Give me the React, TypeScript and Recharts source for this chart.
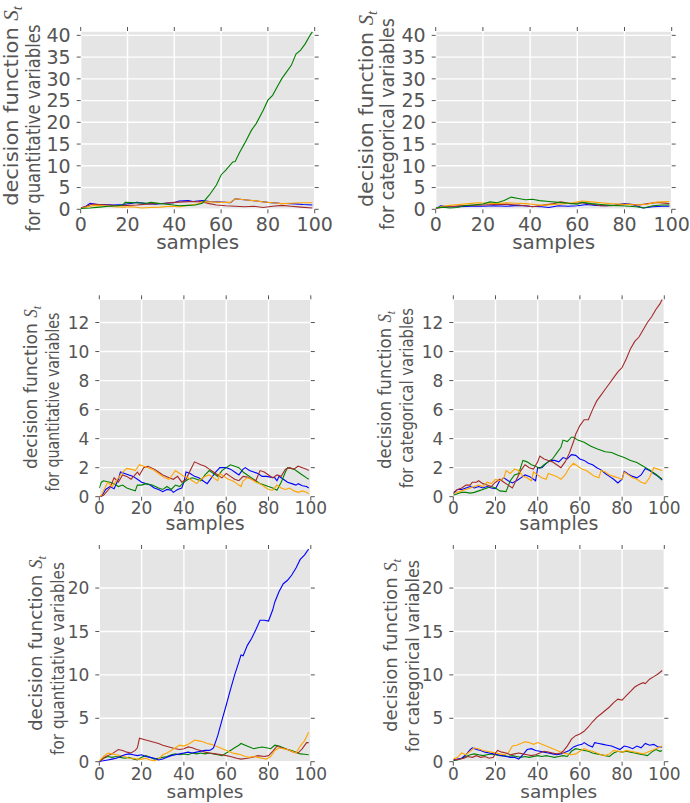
import React from "react";
import { LineChart, Line, XAxis, YAxis, CartesianGrid } from "recharts";

type Pt = [number, number];

const X_TICKS = [0, 20, 40, 60, 80, 100];
const Y_TICKS_ROW1 = [0, 5, 10, 15, 20, 25, 30, 35, 40];
const Y_TICKS_ROW2 = [0, 2, 4, 6, 8, 10, 12];
const Y_TICKS_ROW3 = [0, 5, 10, 15, 20];
const Y_MAX_ROW1 = 41;
const Y_MAX_ROW2 = 13.6;
const Y_MAX_ROW3 = 24.5;

const LABEL_TOP = "decision function";
const LABEL_QUANT = "for quantitative variables";
const LABEL_CAT = "for categorical variables";
const X_LABEL = "samples";

const BLUE = "#0000ff";
const GREEN = "#008000";
const RED = "#a52a2a";
const ORANGE = "#ffa500";

// row 1, quantitative
const r1QuantBlue: Pt[] = [[0,0.3],[2,0.6],[4,1.4],[6,1.2],[8,1.0],[10,1.1],[14,1.0],[18,1.1],[22,1.4],[24,1.6],[28,1.3],[32,1.2],[36,1.4],[40,1.5],[42,1.9],[46,2.0],[48,1.8],[52,2.0],[55,1.8],[58,1.7],[62,1.6],[64,1.5],[66,2.4],[70,2.2],[75,1.9],[80,1.6],[85,1.4],[90,1.3],[95,1.1],[99,1.0]];
const r1QuantGreen: Pt[] = [[0,0.2],[4,0.3],[8,0.5],[12,0.7],[16,0.8],[18,1.0],[19,1.6],[24,1.5],[28,1.4],[30,1.6],[34,1.3],[38,1.1],[42,0.8],[46,0.9],[49,1.0],[52,1.4],[55,3.3],[58,5.6],[60,7.9],[62,9.0],[65,10.9],[66,11.0],[68,13.2],[70,15.1],[73,18.2],[75,19.7],[78,22.8],[80,25.1],[82,26.2],[84,28.2],[86,30.1],[88,31.6],[90,33.1],[92,35.7],[94,36.6],[96,38.1],[98,40.0],[99,40.8]];
const r1QuantRed: Pt[] = [[0,0.3],[3,0.8],[5,1.2],[8,1.1],[12,1.0],[16,0.8],[20,0.9],[24,1.0],[28,1.2],[32,1.3],[36,1.4],[40,1.6],[44,1.7],[48,1.8],[52,1.7],[55,1.3],[58,1.0],[62,0.8],[66,0.7],[70,0.6],[74,0.7],[78,0.4],[82,0.7],[86,0.9],[90,0.7],[94,0.5],[99,0.3]];
const r1QuantOrange: Pt[] = [[0,0.2],[3,0.6],[6,0.9],[10,0.8],[14,0.6],[18,0.5],[22,0.6],[26,0.3],[30,0.4],[34,0.5],[38,0.7],[42,0.6],[46,0.9],[50,1.2],[52,1.7],[56,1.7],[60,1.6],[64,1.6],[66,2.4],[70,2.2],[74,2.0],[78,1.7],[82,1.5],[86,1.3],[90,1.4],[94,1.5],[99,1.5]];

// row 1, categorical
const r1CatBlue: Pt[] = [[0,0.1],[2,0.8],[5,0.6],[10,0.6],[15,0.7],[20,0.7],[25,0.8],[30,0.7],[35,0.9],[40,0.7],[45,0.6],[48,0.4],[52,0.8],[56,0.7],[60,0.8],[64,1.1],[68,0.9],[72,0.8],[76,1.0],[80,1.3],[84,1.0],[88,0.3],[92,0.6],[96,0.7],[99,0.7]];
const r1CatGreen: Pt[] = [[0,0.3],[3,0.5],[6,0.3],[9,0.4],[12,0.8],[16,1.0],[20,1.2],[23,1.7],[26,1.5],[29,2.0],[32,2.8],[35,2.5],[38,2.2],[41,2.3],[44,2.0],[48,1.8],[52,1.6],[56,1.4],[60,1.2],[62,1.6],[66,1.3],[70,1.1],[74,0.9],[78,0.8],[82,0.7],[85,0.6],[88,0.3],[92,0.8],[96,1.0],[99,1.0]];
const r1CatRed: Pt[] = [[0,0.2],[3,0.5],[6,0.6],[10,0.8],[15,0.9],[20,1.0],[25,1.1],[30,1.2],[34,1.0],[38,0.8],[41,0.6],[45,0.9],[50,1.3],[53,1.7],[57,1.3],[62,1.5],[66,1.2],[70,0.8],[74,0.8],[78,1.0],[82,1.2],[86,1.0],[90,1.3],[94,1.6],[99,1.3]];
const r1CatOrange: Pt[] = [[0,0.3],[3,0.7],[6,0.9],[10,1.1],[14,1.3],[18,1.5],[22,1.4],[26,1.3],[30,1.5],[34,1.4],[38,1.3],[42,1.1],[45,0.9],[50,1.1],[55,1.3],[58,1.5],[62,1.9],[66,1.7],[70,1.5],[74,1.3],[78,1.2],[82,1.1],[86,1.0],[90,1.2],[93,1.6],[96,1.7],[99,1.8]];

// row 2, quantitative
const r2QuantBlue: Pt[] = [[0,0.0],[1,0.0],[3,0.5],[5,0.7],[7,0.55],[9,1.2],[10,1.7],[12,1.6],[14,1.5],[16,1.4],[18,1.2],[20,1.0],[22,0.9],[24,0.8],[26,0.6],[28,0.5],[30,0.35],[32,0.5],[34,0.45],[35,0.3],[37,0.5],[39,0.6],[40,1.0],[41,1.7],[43,1.6],[45,1.4],[47,1.3],[49,1.1],[51,0.9],[53,1.3],[55,1.7],[57,2.0],[60,2.0],[62,1.9],[64,1.7],[66,1.5],[68,1.9],[69,2.0],[71,1.8],[73,1.7],[75,1.6],[77,1.4],[79,1.4],[81,1.35],[83,1.3],[84,1.1],[85,1.4],[87,1.2],[89,1.0],[91,0.9],[93,0.8],[94,0.9],[96,0.75],[98,0.7],[99,0.6]];
const r2QuantGreen: Pt[] = [[0,0.6],[1,1.0],[2,1.1],[5,1.0],[7,0.9],[9,0.7],[11,0.8],[13,0.6],[15,0.5],[17,0.4],[18,0.8],[20,0.8],[22,0.9],[25,0.8],[28,0.6],[30,0.5],[32,0.7],[34,0.5],[36,0.8],[38,0.7],[40,1.0],[42,1.2],[44,1.3],[46,1.2],[48,1.1],[50,1.5],[52,1.8],[54,1.6],[56,1.4],[58,1.8],[60,2.0],[62,2.2],[64,2.1],[66,2.0],[68,1.7],[70,1.5],[72,1.3],[74,1.1],[76,0.9],[78,0.8],[80,0.7],[82,0.6],[84,0.45],[86,1.0],[88,1.7],[89,2.0],[92,1.9],[94,1.7],[96,1.5],[98,1.3],[99,1.2]];
const r2QuantRed: Pt[] = [[0,0.0],[2,0.1],[5,0.6],[7,1.3],[9,1.0],[11,1.5],[13,1.4],[15,1.2],[18,1.7],[19,1.5],[21,2.0],[23,2.1],[26,1.9],[28,1.7],[30,1.5],[33,1.3],[35,1.2],[37,1.4],[39,1.0],[41,1.2],[43,1.8],[45,2.4],[48,2.2],[50,2.1],[52,1.9],[54,1.7],[56,1.5],[58,1.3],[60,1.6],[62,1.4],[64,1.2],[66,1.1],[68,1.4],[70,1.35],[72,1.2],[74,1.1],[76,1.8],[78,1.7],[80,1.5],[82,1.3],[84,1.5],[86,1.4],[88,1.9],[90,2.0],[92,1.9],[94,2.1],[96,2.0],[98,1.9],[99,1.8]];
const r2QuantOrange: Pt[] = [[0,0.0],[1,0.1],[4,1.0],[6,0.7],[9,1.3],[11,1.7],[13,1.95],[15,1.9],[17,1.8],[19,2.2],[21,2.1],[23,2.0],[25,1.9],[27,1.7],[29,1.5],[31,1.3],[33,1.2],[35,1.6],[36,1.8],[38,1.6],[40,1.4],[42,1.3],[44,1.1],[46,0.9],[48,1.2],[50,1.4],[52,1.5],[54,1.3],[56,1.1],[57,1.6],[59,1.4],[61,1.2],[63,1.1],[65,0.9],[67,0.7],[68,1.1],[70,1.3],[72,1.2],[74,1.0],[76,0.9],[78,0.7],[80,0.5],[82,0.45],[84,0.8],[86,0.6],[88,0.5],[90,0.6],[92,0.4],[94,0.3],[96,0.4],[98,0.3],[99,0.2]];

// row 2, categorical
const r2CatBlue: Pt[] = [[0,0.2],[2,0.5],[4,0.5],[6,0.6],[8,0.7],[10,0.6],[12,0.7],[14,0.6],[16,0.7],[18,0.6],[20,0.55],[22,1.1],[24,1.3],[26,1.1],[28,0.95],[30,1.1],[32,1.3],[34,1.5],[36,1.4],[38,1.2],[39,1.1],[40,2.0],[42,2.0],[44,2.3],[46,2.5],[48,2.5],[50,2.4],[52,2.7],[54,2.6],[56,2.9],[58,2.85],[60,2.6],[62,2.5],[64,2.3],[66,2.2],[68,2.0],[70,1.85],[72,1.6],[74,1.4],[76,1.2],[78,0.95],[80,1.2],[81,1.75],[83,1.55],[85,1.4],[87,1.3],[89,1.5],[91,1.95],[93,1.8],[95,1.6],[97,1.4],[99,1.15]];
const r2CatGreen: Pt[] = [[0,0.1],[2,0.2],[4,0.3],[6,0.3],[8,0.25],[10,0.3],[12,0.4],[14,0.5],[16,0.6],[18,0.7],[20,0.6],[22,0.4],[25,0.35],[27,1.1],[29,1.5],[31,1.6],[33,2.5],[35,2.4],[37,2.2],[39,2.1],[41,1.95],[43,2.2],[45,2.4],[47,2.6],[49,3.0],[51,3.4],[52,3.9],[54,3.8],[56,4.1],[57,4.1],[59,3.9],[62,3.75],[65,3.5],[68,3.3],[70,3.2],[72,3.1],[75,3.05],[78,2.85],[81,2.7],[84,2.5],[87,2.35],[90,2.1],[93,1.85],[96,1.55],[99,1.2]];
const r2CatRed: Pt[] = [[0,0.3],[2,0.5],[4,0.6],[6,0.8],[8,0.8],[9,1.0],[11,1.0],[12,1.1],[14,0.9],[16,0.8],[18,0.7],[20,1.0],[22,1.2],[24,1.0],[26,0.8],[28,0.6],[30,1.2],[32,1.8],[34,2.2],[36,2.0],[38,1.9],[40,2.4],[41,2.8],[43,2.6],[45,2.5],[47,2.4],[49,2.2],[51,2.0],[53,2.4],[55,3.0],[57,3.8],[58,4.3],[60,4.9],[62,5.3],[64,5.3],[66,6.0],[68,6.6],[70,7.0],[72,7.4],[74,7.8],[76,8.2],[78,8.6],[80,8.9],[82,9.5],[84,10.2],[86,10.7],[88,11.0],[90,11.5],[92,12.0],[94,12.4],[96,12.9],[98,13.3],[99,13.6]];
const r2CatOrange: Pt[] = [[0,0.2],[2,0.3],[4,0.4],[6,0.5],[8,0.6],[10,0.7],[12,0.8],[14,0.7],[16,1.0],[18,0.9],[20,1.2],[22,1.1],[24,1.3],[25,1.8],[27,1.6],[29,1.9],[31,1.8],[33,1.4],[35,1.3],[37,1.1],[38,1.7],[40,1.5],[42,1.3],[44,1.2],[45,1.6],[47,1.5],[49,1.4],[51,1.2],[53,1.5],[55,2.0],[57,2.3],[59,2.1],[61,1.9],[63,1.8],[65,1.6],[67,1.4],[69,1.3],[70,1.8],[72,1.7],[74,1.5],[76,1.4],[78,1.3],[80,1.2],[81,1.7],[83,1.5],[85,1.3],[87,1.2],[89,1.0],[91,0.9],[93,1.3],[95,2.0],[97,1.9],[99,1.8]];

// row 3, quantitative
const r3QuantBlue: Pt[] = [[0,0.0],[2,0.1],[4,0.2],[6,0.3],[8,0.4],[10,0.6],[12,0.8],[14,0.9],[16,0.8],[18,0.7],[20,0.8],[22,0.6],[24,0.5],[26,0.4],[28,0.2],[30,0.3],[32,0.5],[34,0.7],[36,0.8],[38,0.9],[40,1.0],[42,1.1],[44,1.0],[46,1.1],[48,1.2],[50,1.3],[52,1.3],[53,1.4],[54,1.6],[56,3.0],[58,4.8],[60,6.5],[62,8.3],[64,10.0],[66,11.5],[67,12.3],[68,12.2],[70,13.4],[72,14.2],[74,15.2],[76,16.3],[78,16.3],[80,16.2],[82,17.5],[83,18.4],[85,19.6],[87,20.5],[89,20.9],[91,21.5],[93,22.3],[95,23.3],[97,23.8],[99,24.5]];
const r3QuantGreen: Pt[] = [[0,0.0],[2,0.4],[4,0.6],[6,0.5],[8,0.6],[10,0.5],[12,0.4],[14,0.5],[16,0.3],[18,0.2],[20,0.5],[22,0.7],[24,0.5],[26,0.3],[28,0.4],[30,0.5],[32,0.6],[34,0.8],[36,0.9],[38,0.8],[40,0.9],[42,0.8],[44,1.0],[46,0.9],[48,1.0],[50,0.9],[52,1.0],[54,0.9],[56,0.8],[58,0.7],[60,1.0],[62,1.3],[64,1.6],[66,1.9],[67,2.1],[69,1.9],[71,1.7],[73,1.5],[75,1.6],[77,1.7],[79,1.6],[81,1.5],[83,1.9],[85,1.8],[87,1.6],[89,1.4],[91,1.3],[93,1.1],[95,0.9],[97,0.85],[99,0.8]];
const r3QuantRed: Pt[] = [[0,0.0],[1,0.2],[3,0.6],[6,0.9],[9,1.4],[11,1.3],[13,1.1],[15,1.0],[17,1.3],[18,1.6],[19,2.7],[22,2.5],[25,2.3],[28,2.1],[30,1.9],[33,1.7],[36,1.5],[38,1.4],[40,1.5],[42,1.7],[44,1.6],[46,1.4],[48,1.3],[50,1.1],[52,1.0],[55,0.9],[58,0.8],[60,0.7],[62,0.6],[65,0.4],[67,0.3],[70,0.4],[72,0.5],[75,0.7],[78,0.6],[80,0.7],[82,1.2],[84,1.8],[86,1.6],[88,1.5],[90,1.3],[92,1.1],[94,1.0],[96,1.5],[98,2.2],[99,2.2]];
const r3QuantOrange: Pt[] = [[0,0.1],[2,0.6],[4,1.0],[6,0.9],[8,0.8],[10,0.7],[12,0.6],[14,0.4],[16,0.4],[18,0.3],[20,0.3],[22,0.4],[24,0.2],[26,0.1],[28,0.3],[30,0.8],[32,1.0],[34,1.3],[36,1.6],[38,1.9],[40,1.8],[42,2.0],[44,2.3],[45,2.5],[47,2.4],[49,2.3],[51,2.1],[53,2.0],[55,1.8],[57,1.6],[59,1.4],[61,1.2],[63,1.0],[65,0.9],[67,0.8],[69,0.6],[71,0.5],[73,0.6],[75,0.5],[77,0.4],[79,0.3],[81,0.6],[83,1.3],[85,1.6],[87,1.5],[89,1.4],[91,1.2],[93,1.0],[95,1.8],[97,2.4],[99,3.4]];

// row 3, categorical
const r3CatBlue: Pt[] = [[0,0.2],[2,0.3],[4,0.4],[6,0.8],[8,1.4],[9,1.6],[11,1.4],[13,1.3],[15,1.1],[17,1.0],[19,0.9],[21,0.8],[23,0.7],[25,0.6],[27,0.5],[29,0.5],[31,0.3],[33,0.8],[35,1.4],[37,1.5],[39,1.3],[41,1.2],[43,1.1],[45,1.0],[47,0.9],[49,0.8],[51,0.9],[53,1.1],[55,1.3],[57,1.7],[59,1.9],[61,2.0],[62,2.2],[64,1.9],[66,1.7],[67,2.2],[69,2.1],[71,2.0],[73,1.9],[75,1.8],[77,1.6],[79,1.4],[81,1.8],[83,1.7],[85,1.5],[87,1.8],[89,1.6],[91,2.1],[93,1.9],[95,2.0],[97,1.7],[99,1.7]];
const r3CatGreen: Pt[] = [[0,0.1],[2,0.2],[4,0.4],[6,0.6],[8,0.8],[10,0.9],[12,0.8],[14,0.7],[16,0.8],[18,0.9],[20,0.8],[22,0.7],[24,0.7],[26,0.6],[28,0.7],[30,0.6],[32,0.5],[34,0.6],[36,0.5],[38,0.6],[40,0.7],[42,0.6],[44,0.7],[46,0.6],[48,0.5],[50,0.6],[52,0.7],[54,0.6],[56,1.2],[58,1.5],[60,1.4],[62,1.3],[64,1.2],[66,1.0],[68,0.9],[70,0.8],[72,0.7],[74,0.6],[76,1.0],[78,1.2],[80,1.1],[82,1.2],[84,1.1],[86,1.0],[88,0.9],[90,0.8],[92,0.7],[94,1.1],[96,1.4],[98,1.2],[99,1.3]];
const r3CatRed: Pt[] = [[0,0.2],[3,0.3],[5,0.4],[7,0.6],[9,0.5],[11,0.7],[13,0.5],[15,0.6],[17,0.4],[19,0.5],[20,1.0],[21,1.3],[23,1.1],[25,1.0],[27,0.8],[29,0.9],[31,1.0],[33,0.9],[35,0.8],[37,0.7],[39,0.8],[41,1.0],[43,1.2],[45,1.1],[47,1.0],[49,0.9],[51,1.0],[52,1.2],[54,1.8],[56,2.6],[58,3.0],[60,3.2],[62,3.5],[64,4.0],[66,4.6],[68,5.1],[70,5.5],[72,5.9],[74,6.3],[76,6.8],[78,7.2],[80,7.1],[82,7.6],[84,8.1],[86,8.6],[88,8.9],[90,9.1],[91,9.0],[93,9.5],[95,9.8],[97,10.1],[99,10.5]];
const r3CatOrange: Pt[] = [[0,0.3],[2,0.5],[4,1.0],[6,0.8],[8,1.2],[10,1.6],[12,1.5],[14,1.3],[16,1.2],[18,1.1],[20,1.0],[22,0.9],[24,0.8],[26,1.0],[28,1.8],[30,1.9],[32,2.1],[34,2.3],[36,2.2],[38,2.0],[40,2.2],[42,2.0],[44,1.8],[46,1.6],[48,1.4],[50,1.2],[52,1.0],[54,0.9],[56,0.8],[58,0.9],[60,1.2],[62,1.5],[64,1.3],[66,1.2],[68,1.0],[70,0.8],[72,0.7],[74,0.9],[76,1.3],[78,1.2],[80,1.1],[82,1.3],[84,1.2],[86,1.1],[88,1.0],[90,0.9],[92,1.1],[94,1.3],[96,1.5],[98,1.7],[99,1.8]];

const GRAY = "#555555";
const FONT = "DejaVu Sans";
const CW = 345;
const XAXIS_H = 34;
// approximate text widths in em, used to squeeze the rotated labels to the reference length
const EM_LINE1 = 9.64;
const EM_QUANT = 12.63;
const EM_CAT = 12.11;

type Series = { pts: Pt[]; color: string };
type PanelProps = {
  cl: number; ct: number; ch: number;
  pl: number; pt: number; pw: number; ph: number;
  yMax: number; yTicks: number[];
  series: Series[];
  line2: string; em2: number;
  lab: number[]; // per line: baseline x, centre y, length (page coords)
  labelFs: number; tickFs: number; xlabFs: number;
  xTickOff: number; xlabY: number;
};

function Panel(p: PanelProps) {
  const yw = p.pl - p.cl;
  const top = p.pt - p.ct - 1;
  const right = CW - yw - p.pw - 1;
  const bottom = p.ch - (p.pt - p.ct) - p.ph - XAXIS_H;
  const [bx1, cy1, len1, bx2, cy2, len2] = p.lab;
  const lx1 = bx1 - p.cl, ly1 = cy1 - p.ct;
  const lx2 = bx2 - p.cl, ly2 = cy2 - p.ct;
  const fs = p.labelFs;
  const sx1 = len1 / (EM_LINE1 * fs);
  const sx2 = len2 / (p.em2 * fs);

  const xTick = (props: any) => (
    <text x={props.x} y={props.y} dy={p.xTickOff - 4} textAnchor="middle" fill={GRAY} fontSize={p.tickFs} fontFamily={FONT}>
      {props.payload.value}
    </text>
  );
  const yTick = (props: any) => (
    <text x={props.x} y={props.y} dy="0.36em" textAnchor="end" fill={GRAY} fontSize={p.tickFs} fontFamily={FONT}>
      {props.payload.value}
    </text>
  );
  const blank = () => <g />;
  const yLabel = () => (
    <g fill={GRAY} fontFamily={FONT} fontSize={fs}>
      <text x={0} y={0} textAnchor="middle" transform={`translate(${lx1} ${ly1}) rotate(-90) scale(${sx1} 1)`}>
        {LABEL_TOP}{" "}
        <tspan fontFamily="Liberation Serif" fontStyle="italic">S</tspan>
        <tspan fontFamily="Liberation Serif" fontStyle="italic" fontSize={fs * 0.7} dy={fs * 0.22}>t</tspan>
      </text>
      <text x={0} y={0} textAnchor="middle" transform={`translate(${lx2} ${ly2}) rotate(-90) scale(${sx2} 1)`}>
        {p.line2}
      </text>
    </g>
  );
  const xLabel = () => (
    <text x={yw + p.pw / 2} y={p.xlabY - p.ct} textAnchor="middle" fill={GRAY} fontFamily={FONT} fontSize={p.xlabFs}>
      {X_LABEL}
    </text>
  );

  return (
    <div style={{ position: "absolute", left: p.cl, top: p.ct }}>
      <LineChart width={CW} height={p.ch} margin={{ top, right, bottom, left: 0 }}>
        <CartesianGrid stroke="#ffffff" strokeWidth={1.4} fill="#e5e5e5" fillOpacity={1} />
        <XAxis dataKey="x" type="number" domain={[0, 100]} ticks={X_TICKS} interval={0} allowDataOverflow
          height={XAXIS_H} axisLine={false} tickLine={{ stroke: GRAY }} tickSize={4} tickMargin={0}
          tick={xTick} label={{ content: xLabel }} />
        <XAxis xAxisId="top" orientation="top" dataKey="x" type="number" domain={[0, 100]} ticks={X_TICKS}
          interval={0} allowDataOverflow height={1} axisLine={false} tickLine={{ stroke: GRAY }} tickSize={4} tick={blank} />
        <YAxis type="number" domain={[0, p.yMax]} ticks={p.yTicks} interval={0} allowDataOverflow width={yw}
          axisLine={false} tickLine={{ stroke: GRAY }} tickSize={4} tickMargin={6} tick={yTick}
          label={{ content: yLabel }} />
        <YAxis yAxisId="right" orientation="right" type="number" domain={[0, p.yMax]} ticks={p.yTicks}
          interval={0} allowDataOverflow width={1} axisLine={false} tickLine={{ stroke: GRAY }} tickSize={4} tick={blank} />
        {p.series.map((s, i) => (
          <Line key={i} data={s.pts.map(([x, y]) => ({ x, y }))} dataKey="y" type="linear" stroke={s.color}
            strokeWidth={1.1} dot={false} activeDot={false} isAnimationActive={false} />
        ))}
      </LineChart>
    </div>
  );
}

const row1 = { ct: 0, ch: 268, pt: 31, ph: 178.3, yMax: Y_MAX_ROW1, yTicks: Y_TICKS_ROW1, labelFs: 20, tickFs: 19, xlabFs: 20, xTickOff: 21.5, xlabY: 248.5 };
const row2 = { ct: 268, ch: 268, pt: 299.3, ph: 197.4, yMax: Y_MAX_ROW2, yTicks: Y_TICKS_ROW2, labelFs: 18, tickFs: 17, xlabFs: 19, xTickOff: 17.3, xlabY: 530 };
const row3 = { ct: 536, ch: 267, pt: 549, ph: 212.7, yMax: Y_MAX_ROW3, yTicks: Y_TICKS_ROW3, labelFs: 18, tickFs: 17, xlabFs: 18.5, xTickOff: 18.3, xlabY: 797.5 };

export default function App() {
  return (
    <div style={{ position: "absolute", left: 0, top: 0, width: 690, height: 803, background: "#ffffff" }}>
      <Panel {...row1} cl={0} pl={80.7} pw={234} line2={LABEL_QUANT} em2={EM_QUANT} lab={[17.5, 106, 202, 39.5, 128, 207]}
        series={[{ pts: r1QuantBlue, color: BLUE }, { pts: r1QuantRed, color: RED }, { pts: r1QuantOrange, color: ORANGE }, { pts: r1QuantGreen, color: GREEN }]} />
      <Panel {...row1} cl={345} pl={435.7} pw={236} line2={LABEL_CAT} em2={EM_CAT} lab={[372.5, 109, 198, 394, 124, 212]}
        series={[{ pts: r1CatBlue, color: BLUE }, { pts: r1CatRed, color: RED }, { pts: r1CatOrange, color: ORANGE }, { pts: r1CatGreen, color: GREEN }]} />
      <Panel {...row2} cl={0} pl={99.3} pw={211.5} line2={LABEL_QUANT} em2={EM_QUANT} lab={[37, 387.5, 165, 58.5, 402, 179]}
        series={[{ pts: r2QuantBlue, color: BLUE }, { pts: r2QuantGreen, color: GREEN }, { pts: r2QuantRed, color: RED }, { pts: r2QuantOrange, color: ORANGE }]} />
      <Panel {...row2} cl={345} pl={453.3} pw={211} line2={LABEL_CAT} em2={EM_CAT} lab={[391, 390, 160, 413, 398, 180]}
        series={[{ pts: r2CatBlue, color: BLUE }, { pts: r2CatGreen, color: GREEN }, { pts: r2CatRed, color: RED }, { pts: r2CatOrange, color: ORANGE }]} />
      <Panel {...row3} cl={0} pl={99.3} pw={211.5} line2={LABEL_QUANT} em2={EM_QUANT} lab={[42, 643.5, 177, 63.5, 658.5, 193]}
        series={[{ pts: r3QuantGreen, color: GREEN }, { pts: r3QuantRed, color: RED }, { pts: r3QuantOrange, color: ORANGE }, { pts: r3QuantBlue, color: BLUE }]} />
      <Panel {...row3} cl={345} pl={453.3} pw={211} line2={LABEL_CAT} em2={EM_CAT} lab={[397, 645.5, 175, 418.5, 656, 192]}
        series={[{ pts: r3CatGreen, color: GREEN }, { pts: r3CatBlue, color: BLUE }, { pts: r3CatOrange, color: ORANGE }, { pts: r3CatRed, color: RED }]} />
    </div>
  );
}
